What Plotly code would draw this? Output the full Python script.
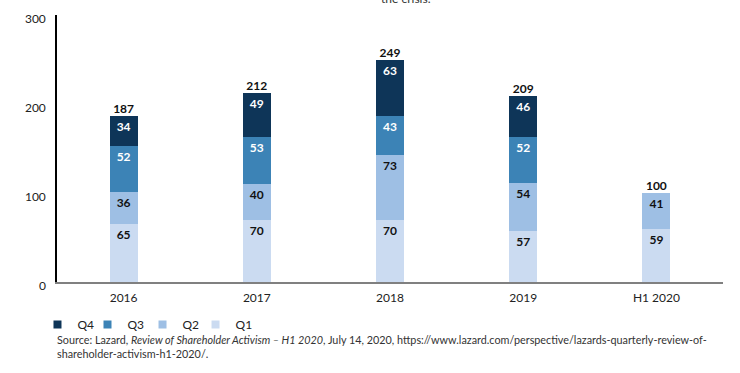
import plotly.graph_objects as go

years = ["2016", "2017", "2018", "2019", "H1 2020"]
q1 = [65, 70, 70, 57, 59]
q2 = [36, 40, 73, 54, 41]
q3 = [52, 53, 43, 52, None]
q4 = [34, 49, 63, 46, None]
totals = [187, 212, 249, 209, 100]
y_ticks = [0, 100, 200, 300]

series = [
    ("Q1", q1, "#cbdbf1", "#111111"),
    ("Q2", q2, "#9ebfe4", "#111111"),
    ("Q3", q3, "#3c83b6", "#ffffff"),
    ("Q4", q4, "#0e3558", "#ffffff"),
]

FONT = "Lato"
fig = go.Figure()
for name, vals, color, tcolor in series:
    fig.add_trace(go.Bar(
        x=years, y=vals, name=name, showlegend=False,
        marker=dict(color=color, line=dict(width=0)),
        text=[("" if v is None else str(v)) for v in vals],
        textposition="inside", insidetextanchor="end",
        textfont=dict(family=FONT, size=12, color=tcolor, weight="bold"),
        textangle=0, cliponaxis=False, hoverinfo="skip",
    ))

# legend entries (small square swatches), one legend per entry for exact spacing
legend_ids = {"Q4": "legend", "Q3": "legend2", "Q2": "legend3", "Q1": "legend4"}
for name, vals, color, tcolor in series:
    fig.add_trace(go.Scatter(
        x=[None], y=[None], mode="markers", name=name,
        marker=dict(symbol="square", size=8, color=color),
        showlegend=True, hoverinfo="skip", legend=legend_ids[name],
    ))

fig.add_trace(go.Scatter(
    x=years, y=totals, mode="text", text=[str(t) for t in totals],
    textposition="top center", showlegend=False, cliponaxis=False,
    textfont=dict(family=FONT, size=12, color="#111111", weight="bold"),
    hoverinfo="skip",
))

leg_common = dict(orientation="h", xanchor="left", y=-0.105, yanchor="top",
                  font=dict(family=FONT, size=12, color="#222222"), itemwidth=30,
                  bgcolor="rgba(0,0,0,0)")

fig.update_layout(
    width=740, height=373,
    margin=dict(l=57, r=17, t=15, b=91, autoexpand=False),
    barmode="stack", bargap=0.79,
    plot_bgcolor="white", paper_bgcolor="white",
    font=dict(family=FONT, size=12, color="#222222"),
    showlegend=True,
    legend=dict(x=-0.0293, **leg_common),
    legend2=dict(x=0.0458, **leg_common),
    legend3=dict(x=0.1284, **leg_common),
    legend4=dict(x=0.208, **leg_common),
    xaxis=dict(showline=True, linecolor="#808080", linewidth=2, ticks="",
               tickfont=dict(family=FONT, size=12, color="#222222"), ticklabelstandoff=4),
    yaxis=dict(range=[0, 300], tickvals=y_ticks, showgrid=False, zeroline=False,
               showline=True, linecolor="#000000", linewidth=1.5, ticks="",
               ticklabelstandoff=7, ticklabelshift=4,
               tickfont=dict(family=FONT, size=12, color="#222222")),
    annotations=[
        dict(text="Source: Lazard, <i>Review of Shareholder Activism – H1 2020</i>, July 14, 2020, "
                  "https://www.lazard.com/perspective/lazards-quarterly-review-of-<br>"
                  "shareholder-activism-h1-2020/.",
             xref="paper", yref="paper", x=-0.003, y=-0.1835, xanchor="left", yanchor="top",
             align="left", showarrow=False,
             font=dict(family=FONT, size=10.8, color="#333333")),
        dict(text="the crisis.", xref="paper", yref="paper", x=0.524, y=1.026,
             xanchor="center", yanchor="bottom", showarrow=False,
             font=dict(family=FONT, size=12, color="#333333")),
    ],
)

fig.write_html("out.html", config={"displayModeBar": False},
               post_script="document.body.style.margin='0';document.body.style.overflow='hidden';")
